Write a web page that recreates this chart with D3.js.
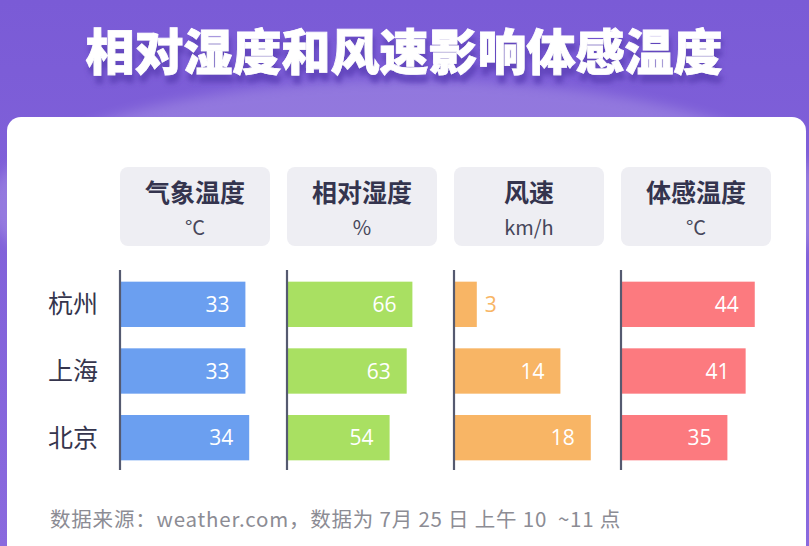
<!DOCTYPE html>
<html><head><meta charset="utf-8">
<script src="https://cdn.jsdelivr.net/npm/d3@7"></script>
<style>html,body{margin:0;padding:0;background:#fff;}svg{display:block;}</style>
</head><body>
<svg id="chart" width="809" height="546"></svg>
<script>
const title = "相对湿度和风速影响体感温度";
const cities = ["杭州", "上海", "北京"];
const metrics = ["气象温度", "相对湿度", "风速", "体感温度"];
const units = ["°C", "%", "km/h", "°C"];
const tempValues = [33, 33, 34];
const humidityValues = [66, 63, 54];
const windValues = [3, 14, 18];
const feelsValues = [44, 41, 35];
const domainMax = [40, 80, 20, 50];
const colors = ["#6b9ff0", "#a9e062", "#f8b565", "#fc7a7f"];
const footnote = "数据来源：weather.com，数据为 7月 25 日 上午 10  ~11 点";

const series = [tempValues, humidityValues, windValues, feelsValues];
const W = 809, H = 546;
const svg = d3.select("#chart");
const font = "'Noto Sans CJK SC','Noto Sans',sans-serif";

// background
const defs = svg.append("defs");
const g1 = defs.append("linearGradient").attr("id","bg").attr("x1",0).attr("y1",0).attr("x2",0).attr("y2",1);
g1.append("stop").attr("offset","0%").attr("stop-color","#7a5bd6");
g1.append("stop").attr("offset","100%").attr("stop-color","#8a6ade");
svg.append("rect").attr("width",W).attr("height",H).attr("fill","url(#bg)");
const shadow = defs.append("filter").attr("id","tshadow").attr("x","-10%").attr("y","-50%").attr("width","120%").attr("height","200%");
shadow.append("feDropShadow").attr("dx",2).attr("dy",8).attr("stdDeviation",2.5)
  .attr("flood-color","#5a3cb5").attr("flood-opacity",0.8);
const blur2 = defs.append("filter").attr("id","blur2");
blur2.append("feGaussianBlur").attr("stdDeviation",6);

svg.append("ellipse").attr("cx",410).attr("cy",205).attr("rx",420).attr("ry",125)
  .attr("fill","#ffffff").attr("opacity",0.16).attr("filter","url(#blur2)");

// title with shadow
svg.append("text").attr("x",404).attr("y",70).attr("text-anchor","middle")
  .attr("font-family",font).attr("font-weight",900).attr("font-size",49)
  .attr("fill","#ffffff").attr("stroke","#ffffff").attr("stroke-width",0.8)
  .attr("filter","url(#tshadow)").text(title);

// card
svg.append("rect").attr("x",7).attr("y",117).attr("width",799).attr("height",460)
  .attr("rx",14).attr("fill","#ffffff");

// layout
const panelX = [120, 287, 454, 621];
const panelW = 152;
const y = d3.scaleBand().domain(cities).range([271, 471]).paddingInner(0.32).paddingOuter(0.16);

// city labels
svg.selectAll("text.city").data(cities).join("text").attr("class","city")
  .attr("x",73).attr("y",d=>y(d)+y.bandwidth()/2).attr("dy","0.36em")
  .attr("text-anchor","middle").attr("font-family",font).attr("font-size",25)
  .attr("fill","#35354d").text(d=>d);

metrics.forEach((m,i)=>{
  const x0 = panelX[i];
  const x = d3.scaleLinear().domain([0, domainMax[i]]).range([0, panelW]);
  const g = svg.append("g").attr("transform",`translate(${x0},0)`);
  // header box
  g.append("rect").attr("x",0).attr("y",167).attr("width",150).attr("height",79)
    .attr("rx",8).attr("fill","#eeeef3");
  g.append("text").attr("x",75).attr("y",202).attr("text-anchor","middle")
    .attr("font-family",font).attr("font-weight",700).attr("font-size",25)
    .attr("fill","#34344e").text(m);
  g.append("text").attr("x",75).attr("y",235).attr("text-anchor","middle")
    .attr("font-family",font).attr("font-size",20)
    .attr("fill","#46465a").text(units[i]);
  // bars
  const data = cities.map((c,j)=>({c, v: series[i][j]}));
  g.selectAll("rect.bar").data(data).join("rect").attr("class","bar")
    .attr("x",x(0)).attr("y",d=>y(d.c)).attr("width",d=>x(d.v)-x(0))
    .attr("height",y.bandwidth()).attr("fill",colors[i]);
  g.selectAll("text.val").data(data).join("text").attr("class","val")
    .attr("x",d=> x(d.v) < 50 ? x(d.v)+8 : x(d.v)-16)
    .attr("text-anchor",d=> x(d.v) < 50 ? "start" : "end")
    .attr("y",d=>y(d.c)+y.bandwidth()/2).attr("dy","0.36em")
    .attr("font-family","'Open Sans','Noto Sans',sans-serif").attr("font-weight",500).attr("font-size",21)
    .attr("fill",d=> x(d.v) < 50 ? colors[i] : "#ffffff").text(d=>d.v);
  // axis line
  const ax = d3.axisLeft(y).tickSize(0).tickFormat("");
  const axg = g.append("g").call(ax);
  axg.select(".domain").attr("d","M0,270V470").attr("stroke","#555a70").attr("stroke-width",2.2);
});

svg.append("text").attr("x",50).attr("y",527).attr("font-family",font)
  .attr("font-size",20.5).attr("fill","#8c8c94").attr("letter-spacing",0.8)
  .style("white-space","pre").text(footnote);
</script>
</body></html>
